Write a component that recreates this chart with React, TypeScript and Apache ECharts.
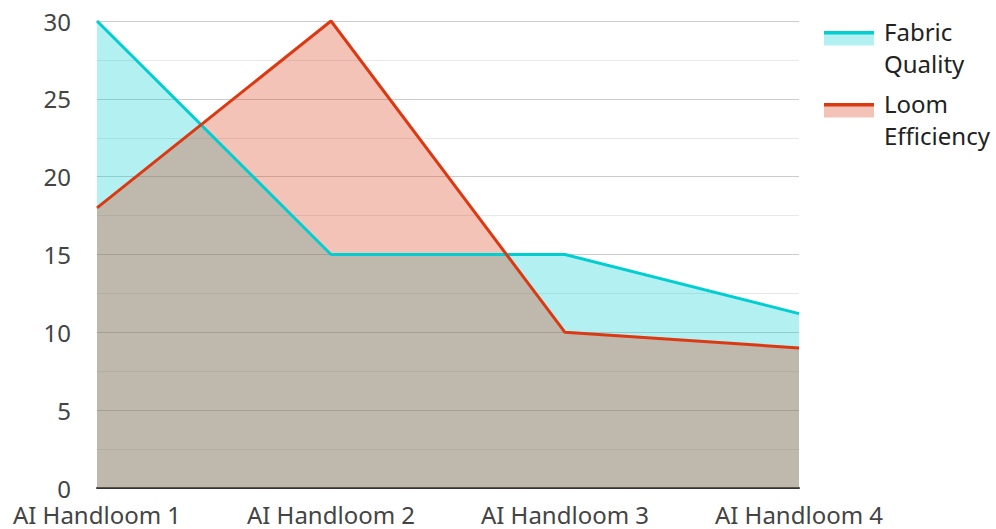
import React, { useEffect, useRef } from "react";
import * as echarts from "echarts";

const categories = ["AI Handloom 1", "AI Handloom 2", "AI Handloom 3", "AI Handloom 4"];
const fabricQuality = [30, 15, 15, 11.2];
const loomEfficiency = [18, 30, 10, 9];
const seriesNames = ["Fabric Quality", "Loom Efficiency"];
const legendLines = [["Fabric", "Quality"], ["Loom", "Efficiency"]];
const colors = ["#00ced1", "#dc3912"];

const FONT = "'Noto Sans', 'Open Sans', sans-serif";

export default function App() {
  const ref = useRef<HTMLDivElement>(null);
  useEffect(() => {
    if (!ref.current) return;
    const chart = echarts.init(ref.current, undefined, { renderer: "svg" });
    const data = [fabricQuality, loomEfficiency];
    const areaSeries = data.map((d, i) => ({
      name: seriesNames[i] + " area",
      type: "line",
      data: d,
      showSymbol: false,
      symbol: "none",
      lineStyle: { width: 0, opacity: 0 },
      areaStyle: { color: colors[i], opacity: 0.3 },
      z: 2,
    }));
    const lineSeries = data.map((d, i) => ({
      name: seriesNames[i],
      type: "line",
      data: d,
      showSymbol: false,
      symbol: "none",
      lineStyle: { width: 3, color: colors[i] },
      itemStyle: { color: colors[i] },
      z: 3,
    }));
    const legendGraphics: any[] = [];
    const iconTops = [32, 104];
    legendLines.forEach((lines, i) => {
      const top = iconTops[i];
      legendGraphics.push({
        type: "rect",
        shape: { x: 824, y: top + 2, width: 50, height: 11.5 },
        style: { fill: colors[i], opacity: 0.3 },
      });
      legendGraphics.push({
        type: "rect",
        shape: { x: 824, y: top - 1, width: 50, height: 3.5 },
        style: { fill: colors[i] },
      });
      lines.forEach((t, j) => {
        legendGraphics.push({
          type: "text",
          x: 884,
          y: top - 1 + j * 32,
          style: {
            text: t,
            font: `24px ${FONT}`,
            fill: "#222",
            verticalAlign: "middle",
          },
        });
      });
    });
    chart.setOption({
      animation: false,
      textStyle: { fontFamily: FONT },
      grid: { left: 97, right: 197, top: 21, bottom: 41, containLabel: false },
      xAxis: {
        type: "category",
        data: categories,
        boundaryGap: false,
        axisLine: { lineStyle: { color: "#333", width: 2 } },
        axisTick: { show: false },
        axisLabel: { color: "#444", fontSize: 24, margin: 14, fontFamily: FONT, interval: 0 },
        splitLine: { show: false },
      },
      yAxis: {
        type: "value",
        min: 0,
        max: 30,
        interval: 5,
        axisLine: { show: false },
        axisTick: { show: false },
        axisLabel: { color: "#444", fontSize: 24, margin: 26, fontFamily: FONT },
        splitLine: { lineStyle: { color: "#cccccc", width: 1 } },
        minorTick: { show: false, splitNumber: 2 },
        minorSplitLine: { show: true, lineStyle: { color: "#e8e8e8", width: 1 } },
      },
      series: [...areaSeries, ...lineSeries],
      graphic: legendGraphics,
    });
    return () => chart.dispose();
  }, []);
  return (
    <div
      ref={ref}
      style={{ position: "absolute", left: 0, top: 0, width: 996, height: 529 }}
    />
  );
}
